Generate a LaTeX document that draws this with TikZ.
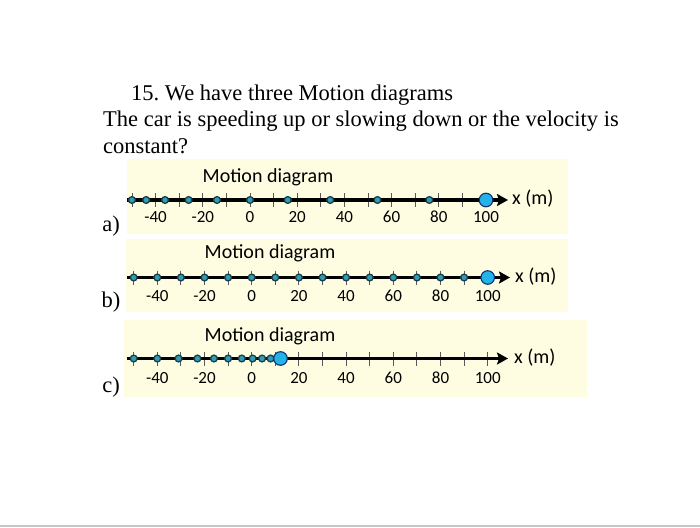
\documentclass[tikz,border=0pt]{standalone}
\usepackage{fontspec}
\setmainfont{Liberation Serif}
\newfontfamily\panelfont{Carlito}
\usetikzlibrary{arrows.meta}
\frenchspacing

\definecolor{panelbg}{HTML}{FEFDE2}
\definecolor{dotfill}{HTML}{2F9DB3}
\definecolor{dotline}{HTML}{1B3E4A}
\definecolor{carfill}{HTML}{22B4E8}

\tikzset{
  question/.style={anchor=west, inner sep=0pt, font=\fontsize{22.5}{26}\selectfont},
  partlabel/.style={font=\fontsize{22.5}{26}\selectfont},
  paneltitle/.style={font=\panelfont\fontsize{20}{24}\selectfont},
  ticklabel/.style={font=\panelfont\fontsize{17}{20}\selectfont},
  axislabel/.style={anchor=west, inner sep=0pt, font=\panelfont\fontsize{20}{24}\selectfont},
  axis/.style={line width=3.2pt, -{Stealth[length=11pt,width=12pt,inset=2pt]}},
  tickmark/.style={gray!70!black, line width=0.9pt},
  posdot/.style={fill=dotfill, draw=dotline, line width=1.3pt},
  cardot/.style={fill=carfill, draw=dotline!80!blue, line width=1.1pt}
}

\begin{document}
\begin{tikzpicture}[x=1pt,y=-1pt]
  \useasboundingbox (0,0) rectangle (700,527);
  \fill[white] (0,0) rectangle (700,527);
  \draw[gray!45, line width=1.5pt] (0,526) -- (700,526);

  % Question text
  \node[question] (q1) at (131,95) {15. We have three Motion diagrams};
  \node[question] (q2) at (103,121) {The car is speeding up or slowing down or the velocity is};
  \node[question] (q3) at (103,146) {constant?};

  % Panel backgrounds
  \fill[panelbg] (127,159) rectangle (568,234);
  \fill[panelbg] (126,239) rectangle (568,312);
  \fill[panelbg] (124,320) rectangle (587,397);

  % Part labels
  \node[partlabel] (pa) at (111,226) {a)};
  \node[partlabel] (pb) at (111,302) {b)};
  \node[partlabel] (pc) at (111,387) {c)};

  % ---- a) speeding up ----
  \def\zero{250}
  \def\unit{2.36}
  \node[paneltitle] (ta) at (268,177) {Motion diagram};
  \foreach \v in {-50,-40,...,100}
    \draw[tickmark] ({\zero+\unit*\v},193) -- ({\zero+\unit*\v},207);
  \draw[axis] (127,200) -- (508,200);
  \foreach \v in {-40,-20,...,100}
    \node[ticklabel] at ({\zero+\unit*\v},217) {\v};
  \node[axislabel] (xa) at (512,199) {x (m)};
  \foreach \v in {-50,-44,-36,-26,-14,0,16,34,54,76}
    \draw[posdot] ({\zero+\unit*\v},200) circle (3.4);
  \draw[cardot] ({\zero+\unit*100},200) circle (6.8);

  % ---- b) constant velocity ----
  \def\zero{251.7}
  \node[paneltitle] (tb) at (270,253) {Motion diagram};
  \foreach \v in {-50,-40,...,100}
    \draw[tickmark] ({\zero+\unit*\v},270.5) -- ({\zero+\unit*\v},284.5);
  \draw[axis] (127,277.5) -- (510,277.5);
  \foreach \v in {-40,-20,...,100}
    \node[ticklabel] at ({\zero+\unit*\v},296) {\v};
  \node[axislabel] (xb) at (515,276.5) {x (m)};
  \foreach \v in {-50,-40,...,90}
    \draw[posdot] ({\zero+\unit*\v},277.5) circle (3.4);
  \draw[cardot] ({\zero+\unit*100},277.5) circle (6.8);

  % ---- c) slowing down ----
  \node[paneltitle] (tc) at (270,336) {Motion diagram};
  \foreach \v in {-50,-40,...,100}
    \draw[tickmark] ({\zero+\unit*\v},351.5) -- ({\zero+\unit*\v},365.5);
  \draw[axis] (127,358.5) -- (508,358.5);
  \foreach \v in {-40,-20,...,100}
    \node[ticklabel] at ({\zero+\unit*\v},378) {\v};
  \node[axislabel] (xc) at (514,357.5) {x (m)};
  \foreach \v in {-50,-40,-31,-23,-16,-10,-4.2,0.4,4.4,8}
    \draw[posdot] ({\zero+\unit*\v},358.5) circle (3.4);
  \draw[cardot] ({\zero+\unit*12.2},358.5) circle (6.8);

\end{tikzpicture}
\end{document}
